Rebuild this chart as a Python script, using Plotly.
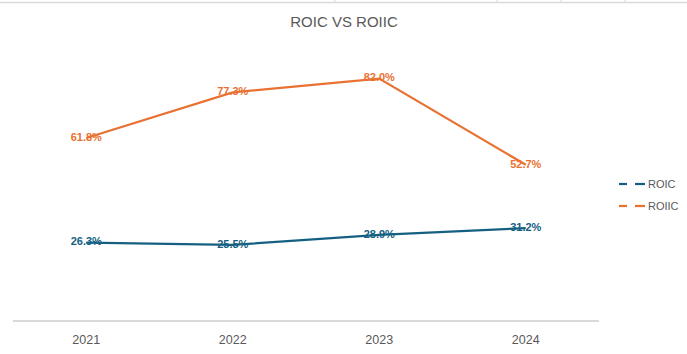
import plotly.graph_objects as go

years = ["2021", "2022", "2023", "2024"]
roic = [26.3, 25.5, 28.9, 31.2]
roiic = [61.8, 77.3, 82.0, 52.7]
series_names = ["ROIC", "ROIIC"]
colors = ["#156082", "#E97132"]

FONT = "Liberation Sans Narrow, Arial Narrow, Liberation Sans, Arial, sans-serif"
GRAY = "#595959"

fig = go.Figure()
for name, vals, col in zip(series_names, [roic, roiic], colors):
    fig.add_trace(go.Scatter(
        x=years, y=vals, name=name, mode="lines+text",
        line=dict(color=col, width=2.25),
        text=[f"{v:.1f}%" for v in vals],
        textposition="middle center",
        textfont=dict(family="Liberation Sans, Arial, sans-serif", size=11, color=col, weight="bold"),
        showlegend=False, cliponaxis=False,
    ))

W, H = 687, 354
L, R, T, B = 13, 88, 55, 34
pw, ph = W - L - R, H - T - B

def px(xv):
    return (xv - L) / pw

def py(yv):
    return 1 - (yv - T) / ph

shapes = []
# spreadsheet border lines at top
shapes.append(dict(type="line", xref="paper", yref="paper", x0=px(0), x1=px(W),
                   y0=py(2.5), y1=py(2.5), line=dict(color="#d9d9d9", width=1.5)))
for xv in [335, 497, 561, 625]:
    shapes.append(dict(type="line", xref="paper", yref="paper", x0=px(xv), x1=px(xv),
                       y0=py(2.5), y1=py(0), line=dict(color="#d9d9d9", width=1)))

# legend
annotations = []
for i, (name, col) in enumerate(zip(series_names, colors)):
    ypx = 184 + 22 * i
    for a, b in [(619, 627), (635, 645)]:
        shapes.append(dict(type="line", xref="paper", yref="paper",
                           x0=px(a), x1=px(b), y0=py(ypx), y1=py(ypx),
                           line=dict(color=col, width=2.25)))
    annotations.append(dict(xref="paper", yref="paper", x=px(646), y=py(ypx), xanchor="left", yanchor="middle",
                            text=name, showarrow=False, font=dict(family=FONT, size=11, color=GRAY)))

fig.update_layout(
    width=W, height=H,
    margin=dict(l=L, r=R, t=T, b=B, autoexpand=False),
    paper_bgcolor="white", plot_bgcolor="white",
    title=dict(text="ROIC VS ROIIC", x=344 / W, xanchor="center", y=1 - 22 / H, yanchor="middle",
               font=dict(family=FONT, size=15, color=GRAY)),
    xaxis=dict(type="category", range=[-0.5, 3.5], showgrid=False, zeroline=False,
               showline=True, linecolor="#d9d9d9", linewidth=1.5, ticks="",
               ticklabelstandoff=7, automargin=False,
               tickfont=dict(family=FONT, size=12.5, color=GRAY), fixedrange=True),
    yaxis=dict(range=[0, 90], showgrid=False, zeroline=False, showline=False,
               showticklabels=False, fixedrange=True, automargin=False),
    shapes=shapes, annotations=annotations,
)

fig.write_html("out.html")
